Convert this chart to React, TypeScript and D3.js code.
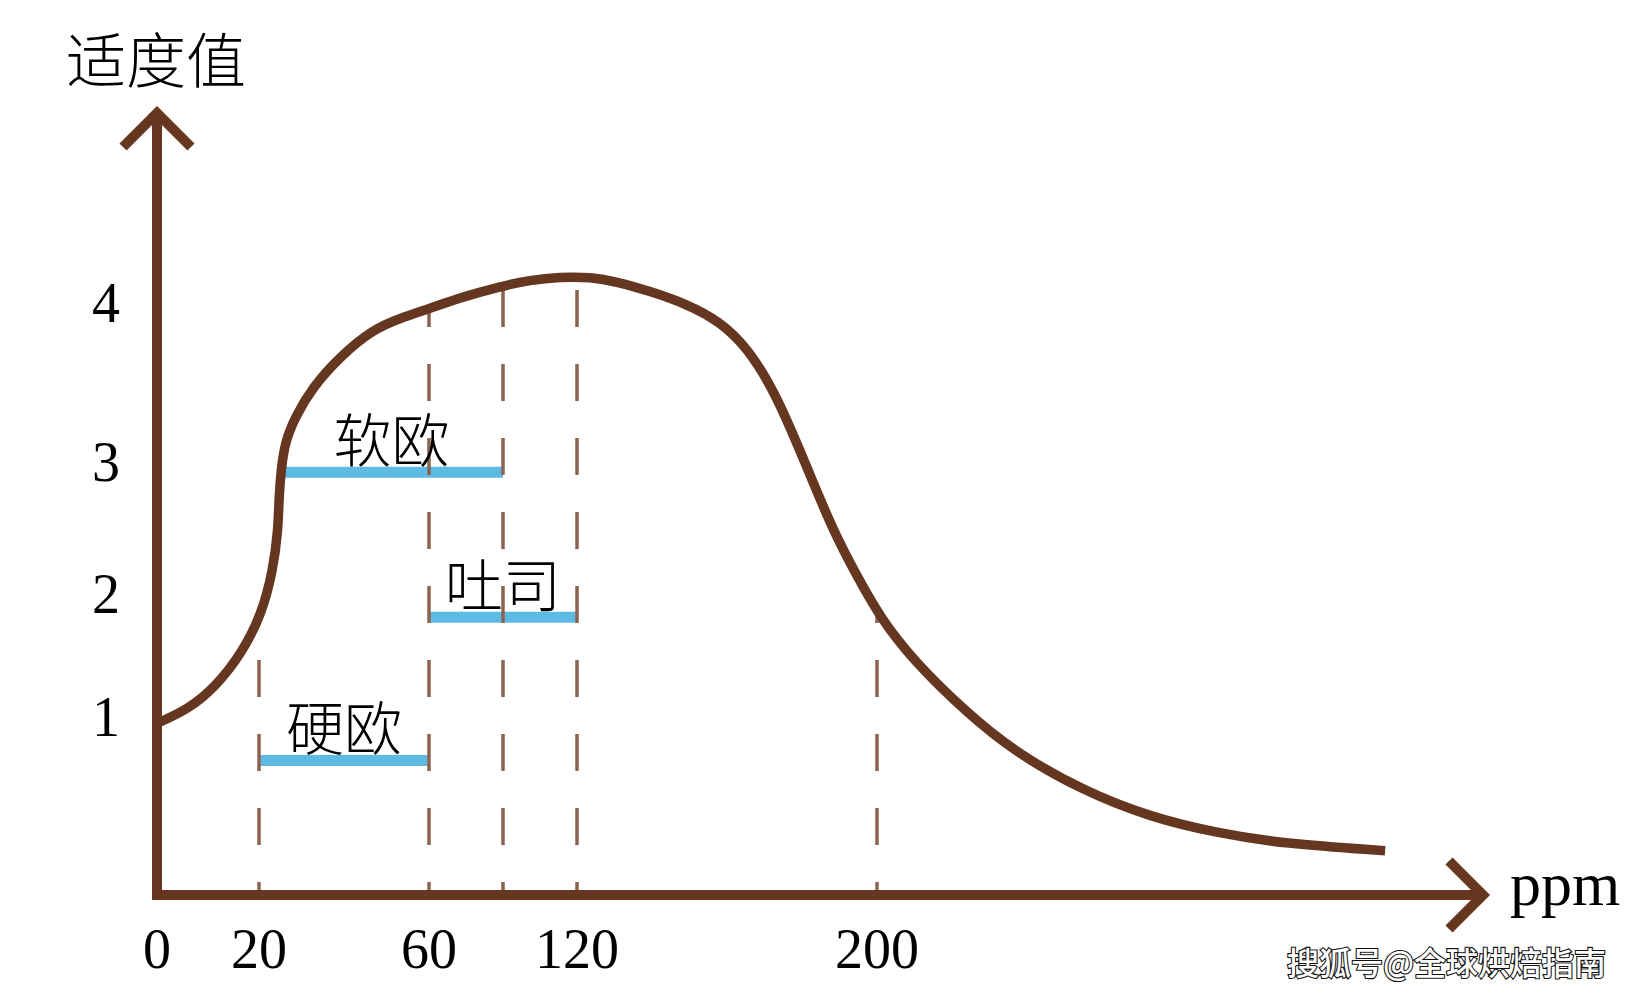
import React from "react";
import * as d3 from "d3";

// 刻度
const xTicks = [0, 20, 60, 120, 200];
const yTicks = [1, 2, 3, 4];
// 虚线参考位置 (ppm)
const guideX = [20, 60, 90, 120, 200];

// 曲线 (ppm, 适度值)
const curveX = [0, 6.1, 11.4, 16.7, 20.7, 23.3, 24.5, 24.7, 25.2, 26.1, 28.5, 32.7, 39.1, 46.8, 53.2, 60, 72.6, 88.8, 100.9, 113.1, 123.5, 130.7, 139.5, 149.3, 158.1, 165.3, 173.3, 182.7, 188.3, 194.7, 200.8, 209.6, 224, 237.3, 254.9, 272.8, 290.7, 308.3, 335.5];
const curveY = [0.97, 1.07, 1.25, 1.53, 1.85, 2.19, 2.49, 2.74, 2.95, 3.13, 3.29, 3.48, 3.67, 3.84, 3.91, 3.97, 4.04, 4.11, 4.15, 4.17, 4.17, 4.14, 4.08, 4.0, 3.89, 3.73, 3.43, 2.87, 2.49, 2.14, 1.82, 1.47, 1.04, 0.8, 0.59, 0.44, 0.35, 0.29, 0.25];

// 面包区间
const breadNames = ["软欧", "吐司", "硬欧"];
const breadFrom = [25, 60, 20];
const breadTo = [90, 120, 60];
const breadLevel = [2.93, 1.82, 0.76];

const W = 1646;
const H = 998;
const BROWN = "#663720";
const DASH = "#8a6450";
const BLUE = "#5dbae3";
const CJK = "'Noto Sans CJK SC', sans-serif";
const NUM = "'Liberation Serif', serif";

// 示意图的刻度间距不均匀，用分段线性比例尺
const xScale = d3.scaleLinear().domain(xTicks).range([157, 259, 429, 577, 877]);
const yScale = d3.scaleLinear().domain([0, ...yTicks]).range([895, 718, 595, 463, 304]);

const App = () => {
  const pts: [number, number][] = curveX.map((x, i) => [xScale(x), yScale(curveY[i])]);
  const line = d3.line().curve(d3.curveBasis);
  const curvePath = line(pts) || "";

  // 曲线在某个 x 处的高度（线性插值）
  const curveAt = (px: number) => {
    const xs = pts.map((p) => p[0]);
    const i = Math.max(1, d3.bisectLeft(xs, px));
    const [x0, y0] = pts[i - 1];
    const [x1, y1] = pts[i];
    return y0 + ((px - x0) / (x1 - x0)) * (y1 - y0);
  };

  const x0 = xScale(0);
  const y0 = yScale(0);
  const xEnd = 1483;
  const yTop = 113;
  const arm = 34;

  return (
    <svg
      width={W}
      height={H}
      style={{ position: "absolute", left: 0, top: 0, background: "#fff" }}
    >
      {/* 蓝色区间 */}
      {breadNames.map((name, i) => (
        <line
          key={"bar" + name}
          x1={xScale(breadFrom[i])}
          x2={xScale(breadTo[i])}
          y1={yScale(breadLevel[i])}
          y2={yScale(breadLevel[i])}
          stroke={BLUE}
          strokeWidth={11}
        />
      ))}

      {/* 虚线 */}
      {guideX.map((g) => (
        <line
          key={"g" + g}
          x1={xScale(g)}
          x2={xScale(g)}
          y1={y0}
          y2={curveAt(xScale(g)) + 3}
          stroke={DASH}
          strokeWidth={3.5}
          strokeDasharray="37 37"
          strokeDashoffset={24}
        />
      ))}

      {/* 曲线 */}
      <path d={curvePath} fill="none" stroke={BROWN} strokeWidth={9.5} />

      {/* 坐标轴 */}
      <path
        d={`M${x0},${yTop} L${x0},${y0} L${xEnd},${y0}`}
        fill="none"
        stroke={BROWN}
        strokeWidth={10}
        strokeLinejoin="miter"
      />
      <path
        d={`M${x0 - arm},${yTop + arm} L${x0},${yTop} L${x0 + arm},${yTop + arm}`}
        fill="none"
        stroke={BROWN}
        strokeWidth={10}
        strokeLinejoin="miter"
      />
      <path
        d={`M${xEnd - arm},${y0 - arm} L${xEnd},${y0} L${xEnd - arm},${y0 + arm}`}
        fill="none"
        stroke={BROWN}
        strokeWidth={10}
        strokeLinejoin="miter"
      />

      {/* 刻度文字 */}
      {xTicks.map((t) => (
        <text
          key={"xt" + t}
          x={xScale(t)}
          y={y0 + 73}
          textAnchor="middle"
          fontFamily={NUM}
          fontSize={56}
          fill="#000"
        >
          {t}
        </text>
      ))}
      {yTicks.map((t) => (
        <text
          key={"yt" + t}
          x={106}
          y={yScale(t) + 18}
          textAnchor="middle"
          fontFamily={NUM}
          fontSize={56}
          fill="#000"
        >
          {t}
        </text>
      ))}

      {/* 区间名称 */}
      {breadNames.map((name, i) => (
        <text
          key={"lb" + name}
          x={(xScale(breadFrom[i]) + xScale(breadTo[i])) / 2}
          y={yScale(breadLevel[i]) - 10}
          textAnchor="middle"
          fontFamily={CJK}
          fontSize={58}
          fontWeight={300}
          fill="#000"
        >
          {name}
        </text>
      ))}

      {/* 轴标题 */}
      <text x={66} y={83} fontFamily={CJK} fontSize={60} fontWeight={300} fill="#000">
        适度值
      </text>
      <text x={1510} y={905} fontFamily={NUM} fontSize={62} fill="#000">
        ppm
      </text>

      {/* 水印 */}
      <text
        x={1287}
        y={975}
        fontFamily={CJK}
        fontSize={32}
        fontWeight={500}
        fill="#fff"
        stroke="#111"
        strokeWidth={2.2}
        paintOrder="stroke"
      >
        搜狐号@全球烘焙指南
      </text>
    </svg>
  );
};

export default App;
